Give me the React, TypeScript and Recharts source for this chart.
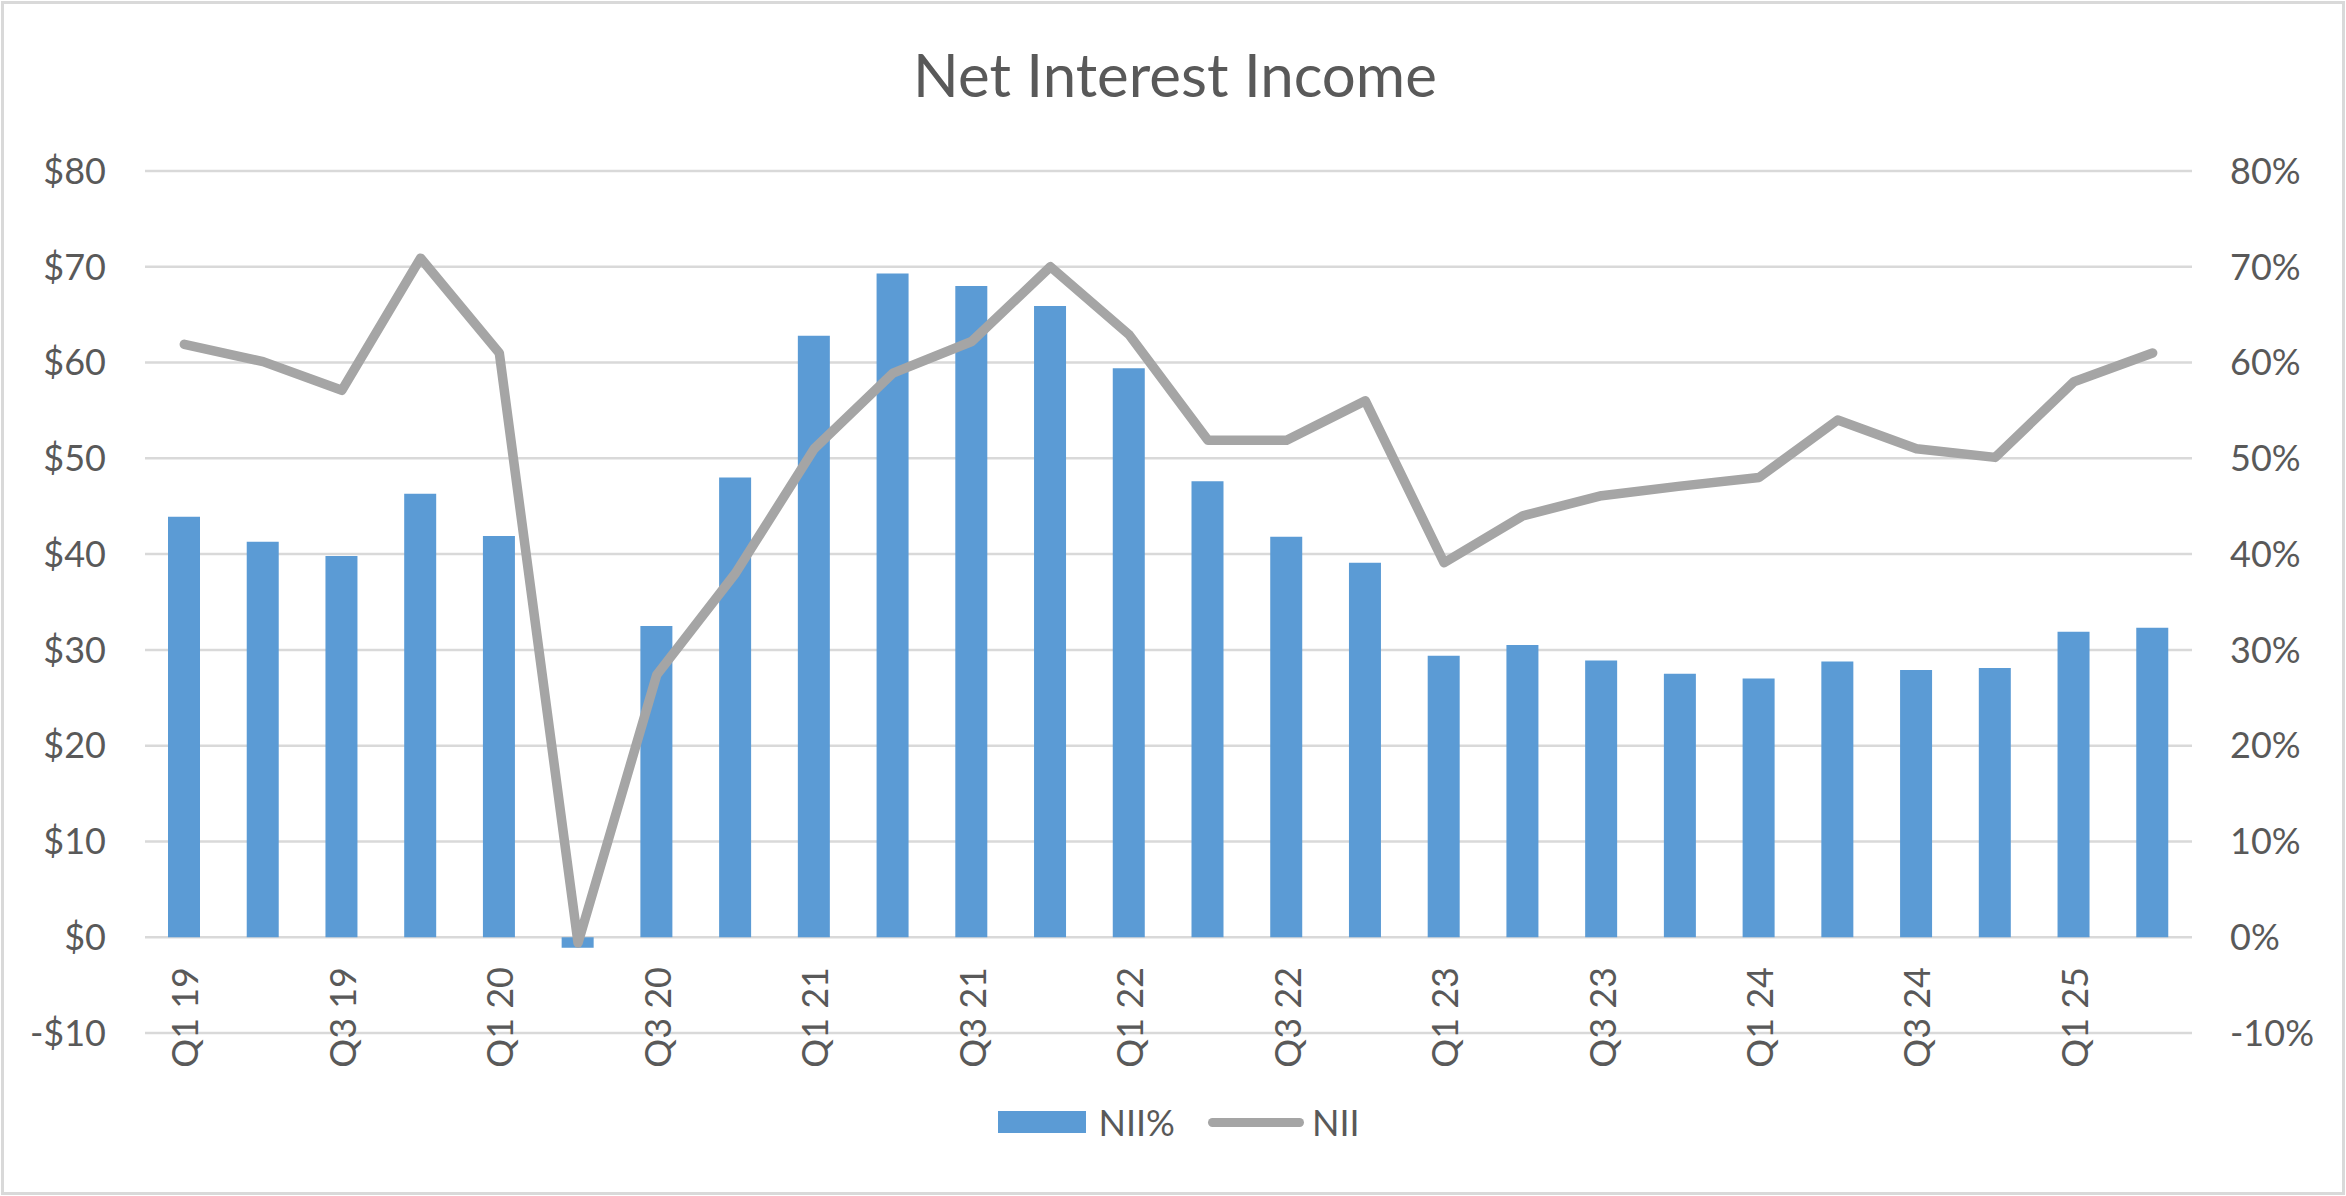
import React from 'react'
import { ComposedChart, Bar, Line, XAxis, YAxis, CartesianGrid, Legend } from 'recharts'

// quarterly categories
const quarters = [
  'Q1 19', 'Q2 19', 'Q3 19', 'Q4 19',
  'Q1 20', 'Q2 20', 'Q3 20', 'Q4 20',
  'Q1 21', 'Q2 21', 'Q3 21', 'Q4 21',
  'Q1 22', 'Q2 22', 'Q3 22', 'Q4 22',
  'Q1 23', 'Q2 23', 'Q3 23', 'Q4 23',
  'Q1 24', 'Q2 24', 'Q3 24', 'Q4 24',
  'Q1 25', 'Q2 25'
]

// NII% (bars, right axis)
const niiPct = [
  43.9, 41.3, 39.8, 46.3,
  41.9, -1.1, 32.5, 48.0,
  62.8, 69.3, 68.0, 65.9,
  59.4, 47.6, 41.8, 39.1,
  29.4, 30.5, 28.9, 27.5,
  27.0, 28.8, 27.9, 28.1,
  31.9, 32.3
]

// NII in $ (line, left axis)
const nii = [
  61.9, 60.1, 57.1, 70.9,
  61.0, -0.6, 27.4, 38.0,
  51.0, 58.9, 62.2, 70.0,
  62.9, 51.9, 51.9, 56.0,
  39.1, 44.0, 46.1, 47.1,
  48.0, 54.0, 51.0, 50.1,
  58.0, 61.0
]

const axisTicks = [-10, 0, 10, 20, 30, 40, 50, 60, 70, 80]

const FONT = 'Lato, "Open Sans", sans-serif'
const TEXT = '#595959'
const BAR_COLOR = '#5b9bd5'
const LINE_COLOR = '#a5a5a5'
const GRID = '#d9d9d9'

const data = quarters.map((q, i) => ({ quarter: q, niiPct: niiPct[i], nii: nii[i] }))

const QuarterTick = (props: any) => {
  const { x, y, payload } = props
  // labels sit just under the $0 line like excel does
  return (
    <text
      transform={`translate(${x},${y - 68}) rotate(-90)`}
      textAnchor="end"
      dominantBaseline="central"
      fill={TEXT}
      style={{ fontFamily: FONT, fontSize: 36 }}
    >
      {payload.value}
    </text>
  )
}

const renderLegend = () => (
  <div
    style={{
      display: 'flex',
      justifyContent: 'center',
      alignItems: 'center',
      fontFamily: FONT,
      fontSize: 36,
      color: TEXT,
      paddingLeft: 12
    }}
  >
    <span style={{ display: 'inline-block', width: 88, height: 22, background: BAR_COLOR, marginRight: 12 }} />
    <span>NII%</span>
    <span
      style={{
        display: 'inline-block',
        width: 96,
        height: 9,
        borderRadius: 5,
        background: LINE_COLOR,
        marginLeft: 33,
        marginRight: 8
      }}
    />
    <span>NII</span>
  </div>
)

export default function App() {
  return (
    <div style={{ position: 'absolute', left: 0, top: 0, width: 2346, height: 1196, background: '#fff' }}>
      <ComposedChart
        width={2346}
        height={1196}
        data={data}
        margin={{ top: 171, right: 0, bottom: 0, left: 0 }}
      >
        <text
          x={1175}
          y={97}
          textAnchor="middle"
          fill={TEXT}
          style={{ fontFamily: FONT, fontSize: 60 }}
        >
          Net Interest Income
        </text>
        <CartesianGrid yAxisId="usd" vertical={false} stroke={GRID} strokeWidth={2.5} />
        <XAxis
          dataKey="quarter"
          height={163}
          interval={1}
          axisLine={false}
          tickLine={false}
          tickSize={0}
          tick={<QuarterTick />}
        />
        <YAxis
          yAxisId="usd"
          width={145}
          domain={[-10, 80]}
          ticks={axisTicks}
          axisLine={false}
          tickLine={false}
          tickSize={0}
          tickMargin={39}
          tickFormatter={(v: number) => (v < 0 ? `-$${-v}` : `$${v}`)}
          tick={{ fill: TEXT, fontSize: 36, fontFamily: FONT }}
        />
        <YAxis
          yAxisId="pct"
          orientation="right"
          width={154}
          domain={[-10, 80]}
          ticks={axisTicks}
          axisLine={false}
          tickLine={false}
          tickSize={0}
          tickMargin={38}
          tickFormatter={(v: number) => `${v}%`}
          tick={{ fill: TEXT, fontSize: 36, fontFamily: FONT }}
        />
        <Bar
          yAxisId="pct"
          dataKey="niiPct"
          name="NII%"
          fill={BAR_COLOR}
          barSize={32}
          isAnimationActive={false}
        />
        <Line
          yAxisId="usd"
          type="linear"
          dataKey="nii"
          name="NII"
          stroke={LINE_COLOR}
          strokeWidth={9.5}
          strokeLinecap="round"
          strokeLinejoin="round"
          dot={false}
          activeDot={false}
          isAnimationActive={false}
        />
        <Legend
          layout="horizontal"
          verticalAlign="middle"
          content={renderLegend}
          wrapperStyle={{ left: 0, top: 1100, width: 2346 }}
        />
      </ComposedChart>
      <div
        style={{
          position: 'absolute',
          left: 1,
          top: 1,
          width: 2338,
          height: 1188,
          border: `3px solid ${GRID}`,
          pointerEvents: 'none'
        }}
      />
    </div>
  )
}
